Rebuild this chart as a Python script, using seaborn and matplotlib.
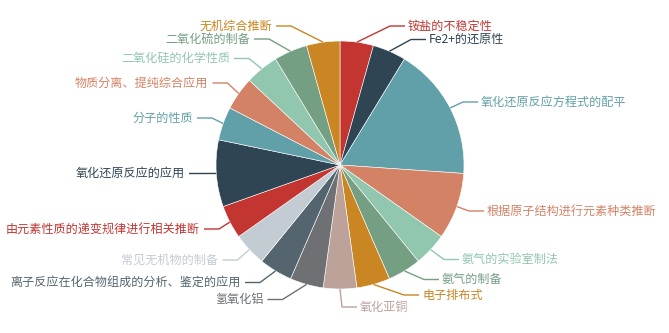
import numpy as np
import matplotlib
matplotlib.use("Agg")
import matplotlib.pyplot as plt
import seaborn as sns

# ---- data ----
names = ['铵盐的不稳定性', 'Fe2+的还原性', '氧化还原反应方程式的配平', '根据原子结构进行元素种类推断',
         '氨气的实验室制法', '氨气的制备', '电子排布式', '氧化亚铜', '氢氧化铝',
         '离子反应在化合物组成的分析、鉴定的应用', '常见无机物的制备', '由元素性质的递变规律进行相关推断',
         '氧化还原反应的应用', '分子的性质', '物质分离、提纯综合应用', '二氧化硅的化学性质',
         '二氧化硫的制备', '无机综合推断']
values = [1, 1, 4, 2, 1, 1, 1, 1, 1, 1, 1, 1, 2, 1, 1, 1, 1, 1]

# ---- layout (pixel coords, y down) ----
W, H = 669, 333
CX, CY, R = 340, 165, 124
label_pos = [(408, 26), (429, 39.5), (481, 102), (487, 211), (462, 259.5), (442, 279.5),
             (422, 295), (360, 307), (263.5, 299.5), (241, 282.5), (218.5, 260), (200, 229),
             (185, 173.5), (193, 118), (208.5, 83), (230, 58.5), (250, 39), (272, 26)]

sns.set_theme(style="white")
plt.rcParams['font.family'] = ['Noto Sans CJK SC', 'DejaVu Sans']

base = ['#c23531', '#2f4554', '#61a0a8', '#d48265', '#91c7ae', '#749f83',
        '#ca8622', '#bda29a', '#6e7074', '#546570', '#c4ccd3']
palette = sns.color_palette(base, n_colors=len(base))
colors = [palette[i % len(palette)] for i in range(len(values))]

fig = plt.figure(figsize=(W / 100, H / 100), dpi=100)
ax = fig.add_axes([0, 0, 1, 1])

ax.pie(values, colors=colors, startangle=90, counterclock=False,
       center=(CX, H - CY), radius=R,
       wedgeprops=dict(edgecolor='white', linewidth=0.4))
ax.set_xlim(0, W)
ax.set_ylim(0, H)
ax.set_aspect('equal')
ax.axis('off')

total = float(sum(values))
cum = np.cumsum([0] + values)
for i, (name, v) in enumerate(zip(names, values)):
    mid = (cum[i] + v / 2.0) / total * 2 * np.pi
    ex = CX + R * np.sin(mid)
    ey = CY - R * np.cos(mid)
    tx, ty = label_pos[i]
    right = np.sin(mid) > 1e-6 or (abs(np.sin(mid)) <= 1e-6 and tx > CX)
    if right:
        p2x = tx - 3
        p1x = p2x - 15
        ha = 'left'
    else:
        p2x = tx + 4
        p1x = p2x + 15
        ha = 'right'
    xs = [ex, p1x, p2x]
    ys = [H - ey, H - ty, H - ty]
    ax.plot(xs, ys, color=colors[i], lw=1, solid_capstyle='butt')
    ax.text(tx, H - ty, name, color=colors[i], fontsize=8.7, ha=ha, va='center')

fig.savefig('out.png', dpi=100)
